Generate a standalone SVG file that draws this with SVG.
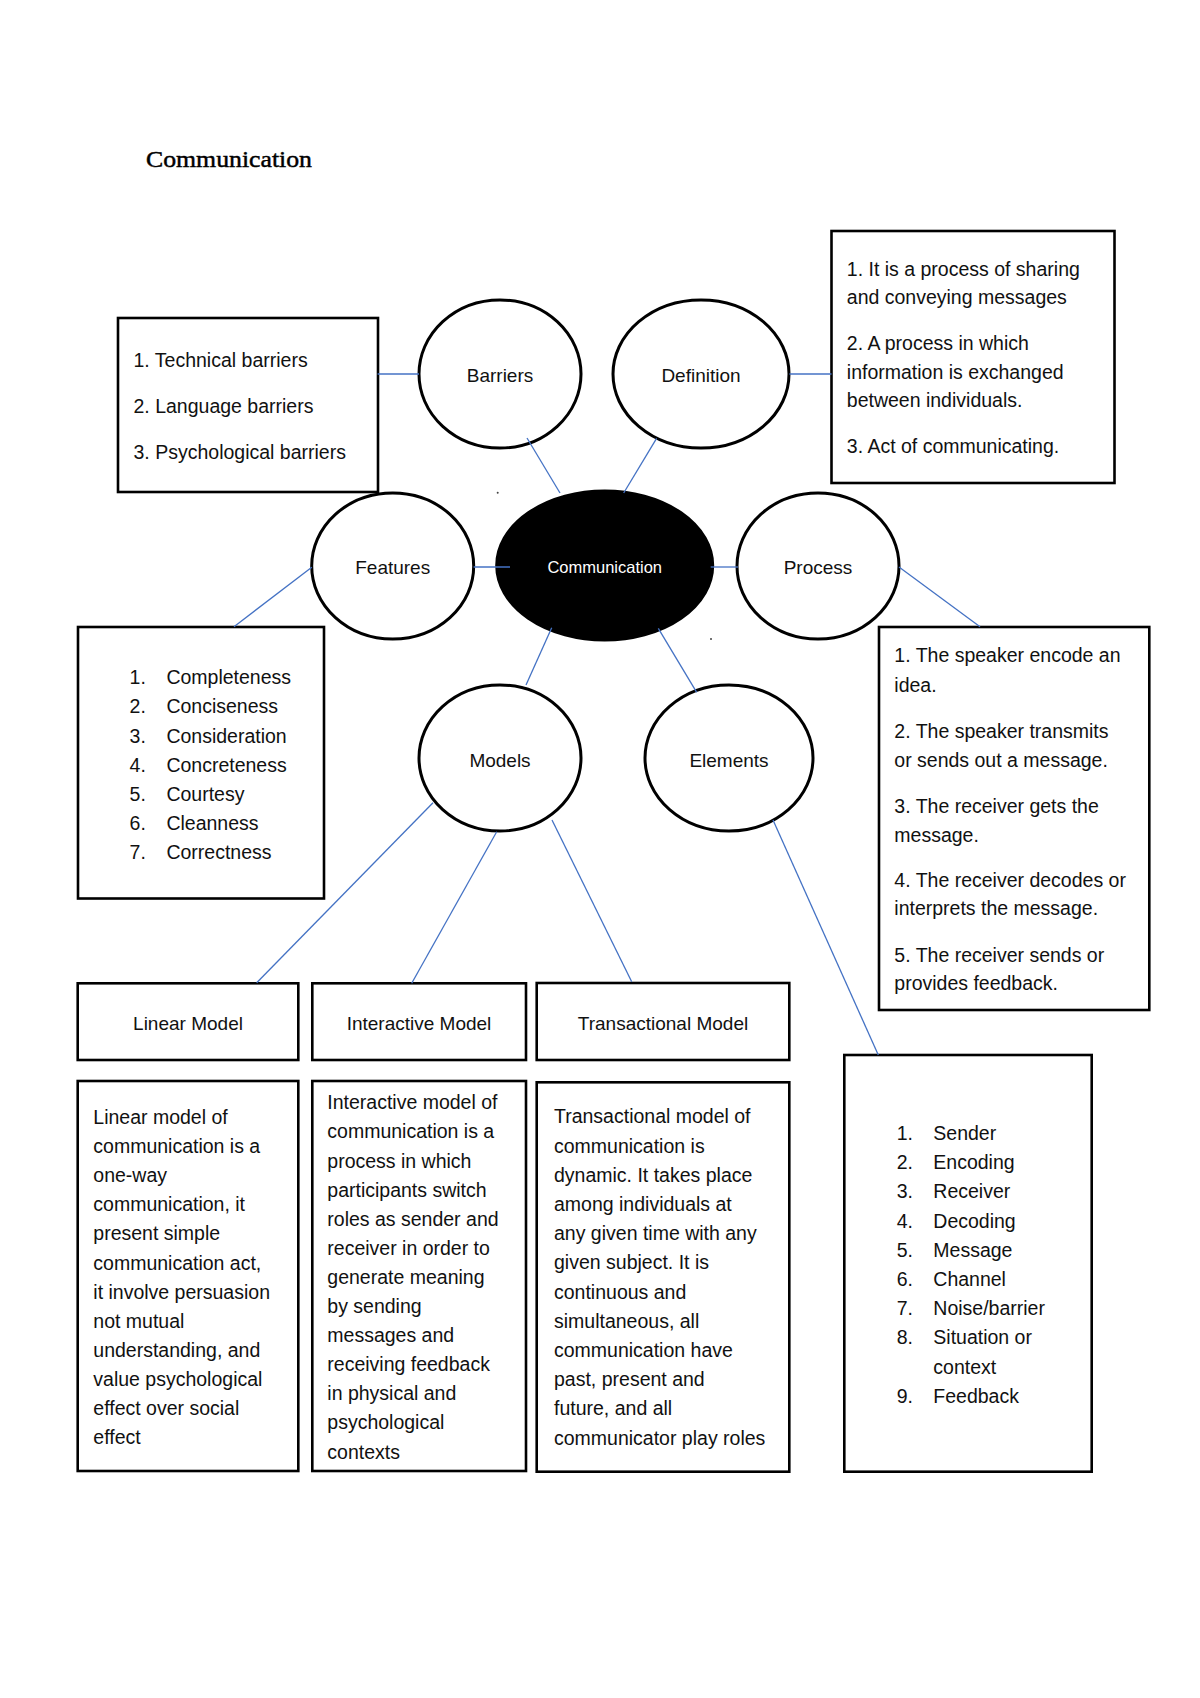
<svg xmlns="http://www.w3.org/2000/svg" width="1200" height="1698" viewBox="0 0 1200 1698">
<style>
.bg{fill:#ffffff}
.title{font-family:"Liberation Serif","Times New Roman",serif;font-size:23px;fill:#000;stroke:#000;stroke-width:0.45}
.node{fill:#fff;stroke:#000;stroke-width:3}
.hub{fill:#000;stroke:#000;stroke-width:3}
.box{fill:#fff;stroke:#000;stroke-width:2.6}
.lbl{font-family:"Liberation Sans",Arial,sans-serif;font-size:19px;fill:#111;text-anchor:middle}
.hubl{font-family:"Liberation Sans",Arial,sans-serif;font-size:16.5px;fill:#fff;text-anchor:middle}
.t{font-family:"Liberation Sans",Arial,sans-serif;font-size:19.5px;fill:#111}
.conn line{stroke:#4472C4;stroke-width:1.3;fill:none}
.dot{fill:#444}
</style>
<rect class="bg" x="0" y="0" width="1200" height="1698"/>
<text class="title" x="146" y="167" textLength="166" lengthAdjust="spacingAndGlyphs">Communication</text>

<g id="barriers-box">
<rect class="box" x="118" y="318" width="260" height="174"/>
<text class="t" x="133.5" y="367">1. Technical barriers</text>
<text class="t" x="133.5" y="413">2. Language barriers</text>
<text class="t" x="133.5" y="459">3. Psychological barriers</text>
</g>

<g id="barriers">
<ellipse class="node" cx="500" cy="374" rx="81" ry="74"/>
<text class="lbl" x="500" y="382">Barriers</text>
</g>

<g id="definition">
<ellipse class="node" cx="701" cy="374" rx="88" ry="74"/>
<text class="lbl" x="701" y="382">Definition</text>
</g>

<g id="definition-box">
<rect class="box" x="831.5" y="231" width="283" height="252"/>
<text class="t" x="846.8" y="276">1. It is a process of sharing</text>
<text class="t" x="846.8" y="304.3">and conveying messages</text>
<text class="t" x="846.8" y="350">2. A process in which</text>
<text class="t" x="846.8" y="379">information is exchanged</text>
<text class="t" x="846.8" y="407.3">between individuals.</text>
<text class="t" x="846.8" y="453.3">3. Act of communicating.</text>
</g>

<g id="features">
<ellipse class="node" cx="392.7" cy="566" rx="81" ry="73"/>
<text class="lbl" x="392.7" y="574">Features</text>
</g>

<g id="communication">
<ellipse class="hub" cx="604.7" cy="565.5" rx="108" ry="74.5"/>
<text class="hubl" x="604.7" y="573">Communication</text>
</g>

<g id="process">
<ellipse class="node" cx="818" cy="566" rx="81" ry="73"/>
<text class="lbl" x="818" y="574">Process</text>
</g>

<g id="features-box">
<rect class="box" x="78" y="627" width="246" height="271.5"/>
<text class="t" x="129.6" y="684">1.</text><text class="t" x="166.4" y="684">Completeness</text>
<text class="t" x="129.6" y="713.3">2.</text><text class="t" x="166.4" y="713.3">Conciseness</text>
<text class="t" x="129.6" y="742.5">3.</text><text class="t" x="166.4" y="742.5">Consideration</text>
<text class="t" x="129.6" y="771.7">4.</text><text class="t" x="166.4" y="771.7">Concreteness</text>
<text class="t" x="129.6" y="800.9">5.</text><text class="t" x="166.4" y="800.9">Courtesy</text>
<text class="t" x="129.6" y="830.1">6.</text><text class="t" x="166.4" y="830.1">Cleanness</text>
<text class="t" x="129.6" y="859.3">7.</text><text class="t" x="166.4" y="859.3">Correctness</text>
</g>

<g id="process-box">
<rect class="box" x="879" y="627" width="270.3" height="383"/>
<text class="t" x="894.3" y="661.7">1. The speaker encode an</text>
<text class="t" x="894.3" y="691.7">idea.</text>
<text class="t" x="894.3" y="738.3">2. The speaker transmits</text>
<text class="t" x="894.3" y="766.7">or sends out a message.</text>
<text class="t" x="894.3" y="812.7">3. The receiver gets the</text>
<text class="t" x="894.3" y="841.7">message.</text>
<text class="t" x="894.3" y="886.7">4. The receiver decodes or</text>
<text class="t" x="894.3" y="915">interprets the message.</text>
<text class="t" x="894.3" y="961.7">5. The receiver sends or</text>
<text class="t" x="894.3" y="990">provides feedback.</text>
</g>

<g id="models">
<ellipse class="node" cx="500" cy="758" rx="81" ry="73"/>
<text class="lbl" x="500" y="766.5">Models</text>
</g>

<g id="elements">
<ellipse class="node" cx="729" cy="758" rx="84" ry="73"/>
<text class="lbl" x="729" y="766.5">Elements</text>
</g>

<g id="linear-model">
<rect class="box" x="77.7" y="983.3" width="220.6" height="76.7"/>
<text class="lbl" x="188" y="1030">Linear Model</text>
</g>
<g id="interactive-model">
<rect class="box" x="312.3" y="983.3" width="213.7" height="76.7"/>
<text class="lbl" x="419" y="1030">Interactive Model</text>
</g>
<g id="transactional-model">
<rect class="box" x="536.7" y="983" width="252.6" height="77"/>
<text class="lbl" x="663" y="1030">Transactional Model</text>
</g>

<g id="linear-text">
<rect class="box" x="77.7" y="1081" width="220.6" height="390"/>
<text class="t" x="93.3" y="1124">Linear model of</text>
<text class="t" x="93.3" y="1153.1">communication is a</text>
<text class="t" x="93.3" y="1182.2">one-way</text>
<text class="t" x="93.3" y="1211.3">communication, it</text>
<text class="t" x="93.3" y="1240.4">present simple</text>
<text class="t" x="93.3" y="1269.5">communication act,</text>
<text class="t" x="93.3" y="1298.6">it involve persuasion</text>
<text class="t" x="93.3" y="1327.7">not mutual</text>
<text class="t" x="93.3" y="1356.8">understanding, and</text>
<text class="t" x="93.3" y="1385.9">value psychological</text>
<text class="t" x="93.3" y="1415">effect over social</text>
<text class="t" x="93.3" y="1444.1">effect</text>
</g>

<g id="interactive-text">
<rect class="box" x="312.3" y="1081" width="213.7" height="390"/>
<text class="t" x="327.3" y="1109.3">Interactive model of</text>
<text class="t" x="327.3" y="1138.4">communication is a</text>
<text class="t" x="327.3" y="1167.5">process in which</text>
<text class="t" x="327.3" y="1196.6">participants switch</text>
<text class="t" x="327.3" y="1225.7">roles as sender and</text>
<text class="t" x="327.3" y="1254.8">receiver in order to</text>
<text class="t" x="327.3" y="1283.9">generate meaning</text>
<text class="t" x="327.3" y="1313">by sending</text>
<text class="t" x="327.3" y="1342.1">messages and</text>
<text class="t" x="327.3" y="1371.2">receiving feedback</text>
<text class="t" x="327.3" y="1400.3">in physical and</text>
<text class="t" x="327.3" y="1429.4">psychological</text>
<text class="t" x="327.3" y="1458.5">contexts</text>
</g>

<g id="transactional-text">
<rect class="box" x="536.7" y="1082.3" width="252.6" height="389.4"/>
<text class="t" x="554" y="1123.3">Transactional model of</text>
<text class="t" x="554" y="1152.5">communication is</text>
<text class="t" x="554" y="1181.7">dynamic. It takes place</text>
<text class="t" x="554" y="1210.9">among individuals at</text>
<text class="t" x="554" y="1240.1">any given time with any</text>
<text class="t" x="554" y="1269.3">given subject. It is</text>
<text class="t" x="554" y="1298.5">continuous and</text>
<text class="t" x="554" y="1327.7">simultaneous, all</text>
<text class="t" x="554" y="1356.9">communication have</text>
<text class="t" x="554" y="1386.1">past, present and</text>
<text class="t" x="554" y="1415.3">future, and all</text>
<text class="t" x="554" y="1444.5">communicator play roles</text>
</g>

<g id="elements-box">
<rect class="box" x="844.3" y="1055" width="247.4" height="416.7"/>
<text class="t" x="896.7" y="1140">1.</text><text class="t" x="933.3" y="1140">Sender</text>
<text class="t" x="896.7" y="1169.2">2.</text><text class="t" x="933.3" y="1169.2">Encoding</text>
<text class="t" x="896.7" y="1198.4">3.</text><text class="t" x="933.3" y="1198.4">Receiver</text>
<text class="t" x="896.7" y="1227.6">4.</text><text class="t" x="933.3" y="1227.6">Decoding</text>
<text class="t" x="896.7" y="1256.8">5.</text><text class="t" x="933.3" y="1256.8">Message</text>
<text class="t" x="896.7" y="1286">6.</text><text class="t" x="933.3" y="1286">Channel</text>
<text class="t" x="896.7" y="1315.2">7.</text><text class="t" x="933.3" y="1315.2">Noise/barrier</text>
<text class="t" x="896.7" y="1344.4">8.</text><text class="t" x="933.3" y="1344.4">Situation or</text>
<text class="t" x="933.3" y="1373.6">context</text>
<text class="t" x="896.7" y="1402.8">9.</text><text class="t" x="933.3" y="1402.8">Feedback</text>
</g>

<g id="connectors" class="conn">
<line x1="377.6" y1="374" x2="419" y2="374"/>
<line x1="789.4" y1="374" x2="831.5" y2="374"/>
<line x1="527" y1="438" x2="560" y2="493"/>
<line x1="656.6" y1="438.3" x2="623.7" y2="493"/>
<line x1="473.6" y1="567" x2="510" y2="567"/>
<line x1="710.7" y1="567" x2="738" y2="567"/>
<line x1="311.8" y1="567.3" x2="234" y2="626.7"/>
<line x1="899" y1="567" x2="980" y2="626.7"/>
<line x1="551.7" y1="627.7" x2="526" y2="685"/>
<line x1="658.3" y1="628.3" x2="696.7" y2="692.3"/>
<line x1="433" y1="802.7" x2="256.7" y2="982.7"/>
<line x1="496.7" y1="831.7" x2="411.7" y2="983.3"/>
<line x1="552" y1="820" x2="631.7" y2="981.7"/>
<line x1="773" y1="820" x2="878.3" y2="1055"/>
</g>

<circle class="dot" cx="497.7" cy="492.7" r="1"/>
<circle class="dot" cx="711" cy="639" r="1"/>
</svg>
